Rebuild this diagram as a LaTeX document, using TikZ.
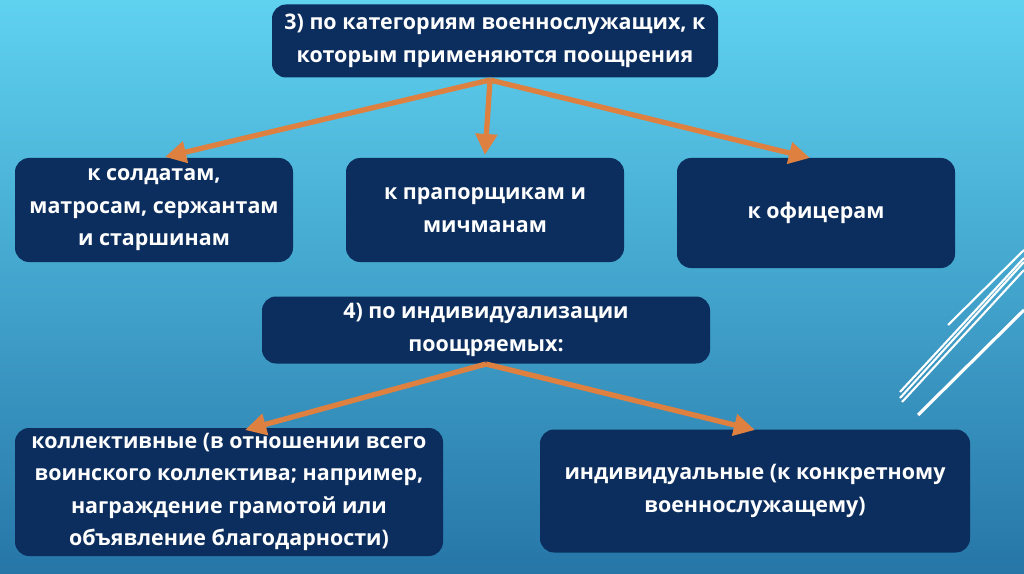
\documentclass[tikz,border=0pt]{standalone}
\usepackage{fontspec}
\setmainfont{Open Sans}
\usetikzlibrary{arrows.meta}
\definecolor{boxblue}{RGB}{12,46,94}
\definecolor{arrowor}{RGB}{222,128,64}
\begin{document}
\begin{tikzpicture}[x=0.02cm,y=-0.02cm]
  \tikzstyle{box} = [fill=boxblue, rounded corners=8pt, text=white, align=center,
                     font=\fontsize{12.2}{18.5}\selectfont\bfseries, inner sep=0pt]
  \tikzstyle{arr} = [draw=arrowor, line width=3pt, -{Triangle[length=12pt,width=12pt]}]
  \tikzstyle{deco} = [draw=white, line width=1.2pt]
  % background
  \shade[top color={rgb,255:red,95;green,210;blue,240}, bottom color={rgb,255:red,38;green,118;blue,168}]
    (0,0) rectangle (1024,574);
  \useasboundingbox (0,0) rectangle (1024,574);
  \draw[deco] (948,325) -- (1024,250);
  \draw[deco] (900,398) -- (1024,262);
  \draw[deco] (900,392) -- (1024,258);
  \draw[deco] (902,402) -- (1024,270);
  \draw[deco, line width=1.8pt] (918,415) -- (1024,310);
  % boxes
  \node[box, minimum width=446*0.02cm, minimum height=73*0.02cm] (cat) at (495,41)
    {3) по категориям военнослужащих, к\\которым применяются поощрения};
  \node[box, minimum width=278*0.02cm, minimum height=104*0.02cm] (sol) at (154,210)
    {к солдатам,\\матросам, сержантам\\и старшинам};
  \node[box, minimum width=278*0.02cm, minimum height=104*0.02cm] (pra) at (485,210)
    {к прапорщикам и\\мичманам};
  \node[box, minimum width=278*0.02cm, minimum height=110*0.02cm] (ofi) at (816,213)
    {к офицерам};
  \node[box, minimum width=448*0.02cm, minimum height=67*0.02cm] (ind) at (486,330)
    {4) по индивидуализации\\поощряемых:};
  \node[box, minimum width=428*0.02cm, minimum height=128*0.02cm] (kol) at (229,492)
    {коллективные (в отношении всего\\воинского коллектива; например,\\награждение грамотой или\\объявление благодарности)};
  \node[box, minimum width=430*0.02cm, minimum height=123*0.02cm] (inv) at (755,491)
    {индивидуальные (к конкретному\\военнослужащему)};
  % arrows
  \coordinate (c1) at (490,80);
  \coordinate (c2) at (486,364);
  \draw[arr] (c1) -- (165,157);
  \draw[arr] (c1) -- (485,155);
  \draw[arr] (c1) -- (810,158);
  \draw[arr] (c2) -- (245,430);
  \draw[arr] (c2) -- (755,430);
\end{tikzpicture}
\end{document}
